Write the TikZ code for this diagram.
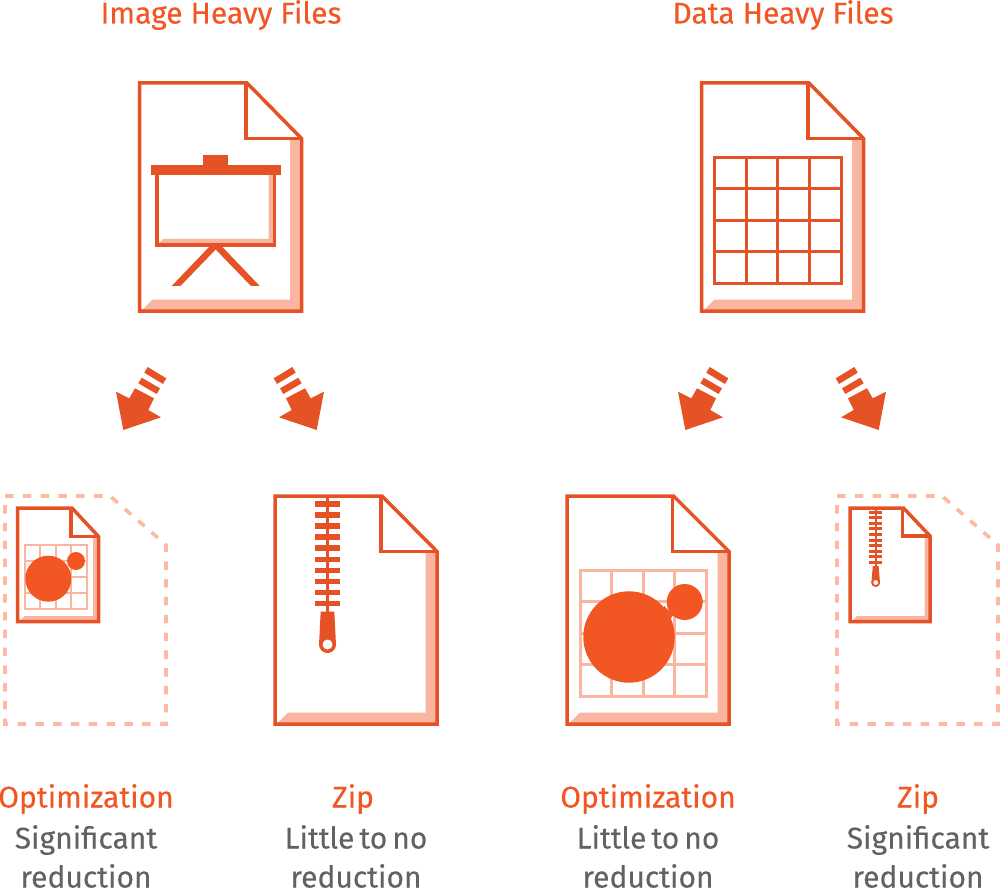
\documentclass[tikz,border=0pt]{standalone}
\usepackage{fontspec}
\setmainfont{Fira Sans}
\definecolor{lineor}{HTML}{E55225}
\definecolor{fillor}{HTML}{F15623}
\definecolor{lightor}{HTML}{FAB5A0}
\definecolor{dashor}{HTML}{FDB9A3}
\definecolor{grayt}{HTML}{5F6366}
\tikzset{
  docline/.style={draw=lineor,line width=3.5pt,line join=miter},
  dashline/.style={draw=dashor,line width=3.6pt,dash pattern=on 8.5pt off 9.3pt},
  headtxt/.style={font=\fontsize{30}{30}\selectfont\addfontfeature{FakeBold=0.2},text=fillor,anchor=base,inner sep=0pt},
  subtxt/.style={font=\fontsize{30}{30}\selectfont\addfontfeature{FakeBold=0.2},text=grayt,anchor=base,inner sep=0pt},
  arrowfill/.style={fill=lineor,draw=none}
}
% x0 y0 x1 y1 foldx foldy band
\newcommand{\docfile}[7]{%
  \fill[lightor] (#3-#7,#6) -- (#3,#6) -- (#3,#4) -- (#1+1.5,#4) -- (#1+1.5+#7,#4-#7) -- (#3-#7,#4-#7) -- cycle;
  \draw[docline] (#1,#2) -- (#5+1,#2) -- (#3,#6) -- (#3,#4) -- (#1,#4) -- cycle;
  \draw[docline] (#5,#2) -- (#5,#6) -- (#3,#6);
}
% x0 y0 x1 y1
\newcommand{\dashfile}[4]{%
  \draw[dashline] (#1,#2) -- (#1+105,#2) -- (#3,#2+49) -- (#3,#4) -- (#1,#4) -- cycle;
}
% x0 y0 x1 y1 width colour
\newcommand{\gridbox}[6]{%
  \draw[draw=#6,line width=#5] (#1,#2) rectangle (#3,#4);
  \foreach \k in {1,2,3}{
    \draw[draw=#6,line width=#5] ({#1+\k*(#3-#1)/4},#2) -- ({#1+\k*(#3-#1)/4},#4);
    \draw[draw=#6,line width=#5] (#1,{#2+\k*(#4-#2)/4}) -- (#3,{#2+\k*(#4-#2)/4});
  }
}
% shift, xscale
\newcommand{\downarr}[2]{%
  \begin{scope}[shift={(#1,355)},xscale=#2]
    \fill[arrowfill] (16,36.7) -- (29.3,43.3) -- (35,33.3) -- (54,43.3) -- (48.3,55) -- (61,62.3) -- (23.3,75) -- cycle;
    \fill[arrowfill] (38.3,28.3) -- (41.7,22.7) -- (60,33.3) -- (56.7,39) -- cycle;
    \fill[arrowfill] (44.3,17.7) -- (47.7,12) -- (66.3,23.3) -- (63,29) -- cycle;
  \end{scope}
}
% cx top firsty step n halfwidth toothheight stem
\newcommand{\zipper}[8]{%
  \draw[draw=lineor,line width=#8] (#1,#2) -- (#1,{#3+(#5-1)*#4+2*#7});
  \foreach \k in {1,...,#5}{
    \fill[lineor] ({#1-#6},{#3+(\k-1)*#4-#7/2}) rectangle ({#1+#6},{#3+(\k-1)*#4+#7/2});
  }
}
\newcommand{\myblob}[6]{%
  \fill[fillor] (#1,#2) circle[radius=#3];
  \fill[fillor] (#4,#5) circle[radius=#6];
}
\newcommand{\tightwords}{\spaceskip=5pt\relax}
\begin{document}
\begin{tikzpicture}[x=1pt,y=-1pt]
\useasboundingbox (0,0) rectangle (1000,890);
\fill[white] (0,0) rectangle (1000,890);

% Image heavy source file
\docfile{139.5}{83}{301.5}{311}{246}{138.5}{11.5}
\fill[lightor] (268.5,174) -- (274,174) -- (274,244) -- (158,244) -- (163,239) -- (268.5,239) -- cycle;
\draw[draw=lineor,line width=3.1pt] (157,170) -- (157,245) -- (274.5,245) -- (274.5,170);
\fill[lineor] (151,165) rectangle (281,175);
\fill[lineor] (203,155) rectangle (228,166);
\fill[lineor] (171.7,286) -- (210,246) -- (221.4,246) -- (259.7,286) -- (251,286) -- (215.7,249.5) -- (180.4,286) -- cycle;

% Data heavy source file
\docfile{701.5}{83}{863.5}{311}{808}{138.5}{11.5}
\gridbox{714.5}{157.5}{841}{283.5}{3pt}{lineor}

% Optimised image file
\dashfile{5}{496}{166}{724}
\docfile{17.5}{508}{98.5}{621.5}{71}{536.5}{5.5}
\gridbox{24.5}{545}{87}{608.5}{2pt}{lightor}
\myblob{48.3}{578.7}{23}{76}{561}{9}

% Zip image file
\docfile{275}{496}{437}{724}{381}{551.5}{11.5}
\zipper{327.5}{496}{504}{11.07}{10}{12.7}{5.6}{3.4pt}
\fill[lineor] (320.7,611.5) -- (334.3,611.5) -- (336,645) -- (319,645) -- cycle;
\fill[lineor] (327.5,644.5) circle[radius=8.5];
\fill[white] (327.5,644.5) circle[radius=5];

% Optimised data file
\docfile{567}{496}{729}{724}{672.5}{551.5}{11.5}
\gridbox{580}{570}{706}{696}{3pt}{lightor}
\myblob{629}{637}{45.7}{684.7}{602}{18}
\fill[fillor] (664,606) -- (673,615) -- (668,623) -- (660,615) -- cycle;

% Zip data file
\dashfile{837}{496}{998}{724}
\docfile{850}{508}{930}{621.5}{902.5}{536}{5.5}
\zipper{875.7}{508}{512.3}{5.55}{10}{6.6}{3}{2pt}
\fill[lineor] (872.8,566) -- (878.6,566) -- (880,583) -- (871.4,583) -- cycle;
\fill[lineor] (875.7,582.5) circle[radius=4.5];
\fill[white] (875.7,582.5) circle[radius=2.4];

% Arrows
\downarr{100}{1}
\downarr{340}{-1}
\downarr{662}{1}
\downarr{902}{-1}

% Text
\node[headtxt] (t1) at (221,23.5) {Image Heavy Files};
\node[headtxt] (t2) at (783,23.5) {Data Heavy Files};
\node[headtxt] (o1) at (86,807.5) {Optimization};
\node[subtxt] (o1a) at (86,848.5) {Significant};
\node[subtxt] (o1b) at (86,887.5) {reduction};
\node[headtxt] (z1) at (353,807.5) {Zip};
\node[subtxt] (z1a) at (356,848.5) {\tightwords Little to no};
\node[subtxt] (z1b) at (356,887.5) {reduction};
\node[headtxt] (o2) at (648,807.5) {Optimization};
\node[subtxt] (o2a) at (648,848.5) {\tightwords Little to no};
\node[subtxt] (o2b) at (648,887.5) {reduction};
\node[headtxt] (z2) at (918,807.5) {Zip};
\node[subtxt] (z2a) at (918,848.5) {Significant};
\node[subtxt] (z2b) at (918,887.5) {reduction};
\end{tikzpicture}
\end{document}
